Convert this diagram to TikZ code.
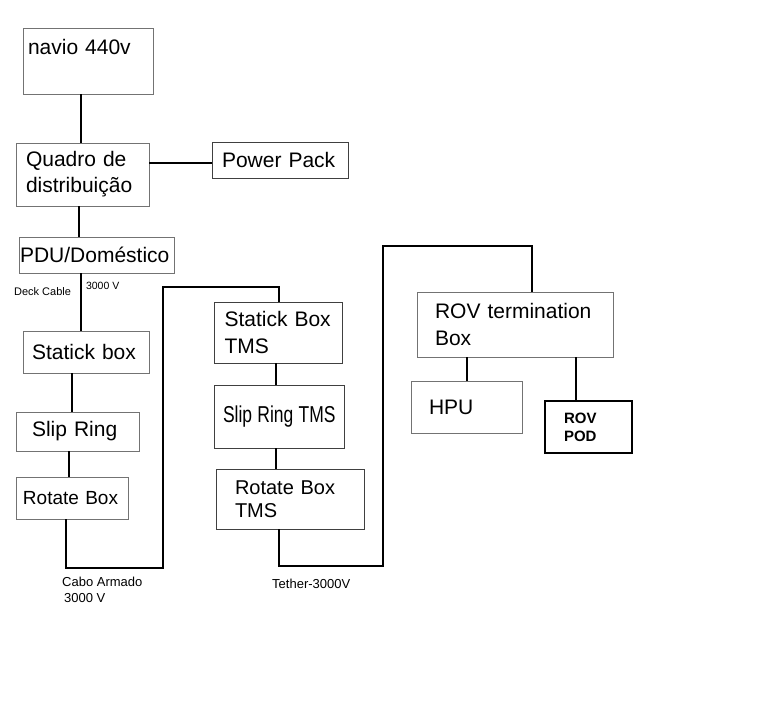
\documentclass[tikz,border=0pt]{standalone}
\usepackage{fontspec}
\setmainfont{Liberation Sans}
\usepackage{graphicx}
\usepackage{tikz}
\usetikzlibrary{positioning, calc}

\tikzset{
    blk/.style={rectangle, draw=black!55, line width=0.9pt, align=left, inner ysep=0pt, font=\fontsize{21pt}{27pt}\selectfont},
    wire/.style={line width=2pt},
    tag/.style={inner sep=0pt, align=left, font=\fontsize{13pt}{16pt}\selectfont}
}

\begin{document}
\begin{tikzpicture}[x=1pt, y=-1pt]
                        \useasboundingbox (0, 0) rectangle (768, 707);
                        \node[blk, minimum width=130pt, minimum height=66pt, text width=120pt, inner xsep=5pt] (ship) at (88, 61) {navio 440v\\[1pt]\mbox{}};
                        \node[blk, minimum width=133pt, minimum height=63pt, text width=113pt, inner xsep=10pt, font=\fontsize{21pt}{26pt}\selectfont] (quadro) at (82.5, 174.5) {Quadro de\\distribuição};
                        \node[blk, minimum width=136pt, minimum height=36pt, text width=116pt, inner xsep=10pt, draw=black!75] (power) at (280, 160) {Power Pack};
                        \node[blk, minimum width=155pt, minimum height=36pt, text width=153pt, inner xsep=1pt] (pdu) at (96.5, 255) {PDU/Doméstico};
                        \node[blk, minimum width=126pt, minimum height=42pt, text width=108pt, inner xsep=9pt] (statick) at (86, 352) {Statick box};
                        \node[blk, minimum width=123pt, minimum height=39pt, text width=91pt, inner xsep=16pt] (slip) at (77.5, 431.5) {Slip Ring};
                        \node[blk, minimum width=112pt, minimum height=42pt, text width=98pt, inner xsep=7pt, font=\fontsize{19pt}{23pt}\selectfont] (rotate) at (72, 498) {Rotate Box};
                        \node[blk, minimum width=128pt, minimum height=61pt, text width=110pt, inner xsep=9pt, draw=black!75] (statickT) at (278, 332.5) {\hspace*{1.5pt}Statick Box\\\hspace*{1.5pt}TMS};
                        \node[blk, minimum width=130pt, minimum height=63pt, text width=112pt, inner xsep=9pt, draw=black!75] (slipT) at (279, 416.5) {\scalebox{0.76}[1]{\fontsize{23pt}{27pt}\selectfont Slip Ring TMS}};
                        \node[blk, minimum width=148pt, minimum height=60pt, text width=110pt, inner xsep=19pt, draw=black!75, font=\fontsize{20pt}{23pt}\selectfont] (rotateT) at (290, 499) {Rotate Box\\TMS};
                        \node[blk, minimum width=196pt, minimum height=65pt, text width=160pt, inner xsep=18pt] (rovtb) at (515, 324.5) {ROV termination\\Box};
                        \node[blk, minimum width=111pt, minimum height=52pt, text width=75pt, inner xsep=18pt] (hpu) at (466.5, 407) {HPU};
                        \node[blk, minimum width=87pt, minimum height=52pt, text width=49pt, inner xsep=19pt, draw=black, line width=2.2pt, font=\fontsize{15pt}{18pt}\selectfont\bfseries] (pod) at (588.5, 427) {ROV\\POD};

                        \coordinate (armlow) at (163, 568);
                        \coordinate (armtop) at (163, 287);
                        \coordinate (tetlow) at (383, 566);
                        \coordinate (tettop) at (383, 246);

                        \draw[wire]
                        ([xshift=-7pt]ship.south) -- ([xshift=-7pt]ship.south |- quadro.north)
                        ([yshift=11.5pt]quadro.east) -- ([yshift=11.5pt]quadro.east -| power.west)
                        ([xshift=-3.5pt]quadro.south) -- ([xshift=-3.5pt]quadro.south |- pdu.north)
                        ([xshift=-14.3pt]statick.south) -- ([xshift=-14.3pt]statick.south |- slip.north)
                        ([xshift=-8.2pt]slip.south) -- ([xshift=-8.2pt]slip.south |- rotate.north)
                        ([xshift=-2pt]statickT.south) -- ([xshift=-2pt]statickT.south |- slipT.north)
                        ([xshift=-3pt]slipT.south) -- ([xshift=-3pt]slipT.south |- rotateT.north)
                        ([xshift=-48.5pt]rovtb.south) -- ([xshift=-48.5pt]rovtb.south |- hpu.north)
                        ([xshift=61pt]rovtb.south) -- ([xshift=61pt]rovtb.south |- pod.north);
                        \draw[wire] ([xshift=-15.5pt]pdu.south) -- ([xshift=-15.5pt]pdu.south |- statick.north)
                        node[tag, pos=0.22, right=4pt, font=\fontsize{10.5pt}{12pt}\selectfont] (volt1) {3000 V}
                        node[tag, pos=0.31, left=9pt, font=\fontsize{11pt}{12pt}\selectfont] (deck) {Deck Cable};
                        \draw[wire] ([xshift=-6pt]rotate.south) |- (armlow) -- (armtop) -| ([xshift=1pt]statickT.north);
                        \draw[wire] ([xshift=-11pt]rotateT.south) |- (tetlow) -- (tettop) -| ([xshift=16.5pt]rovtb.north);

                        \node[tag, anchor=north west] (armado) at (62, 577) {Cabo Armado\\\hspace*{2pt}3000 V};
                        \node[tag, anchor=west] (tether) at (272, 584) {Tether-3000V};
                    \end{tikzpicture}
\end{document}
